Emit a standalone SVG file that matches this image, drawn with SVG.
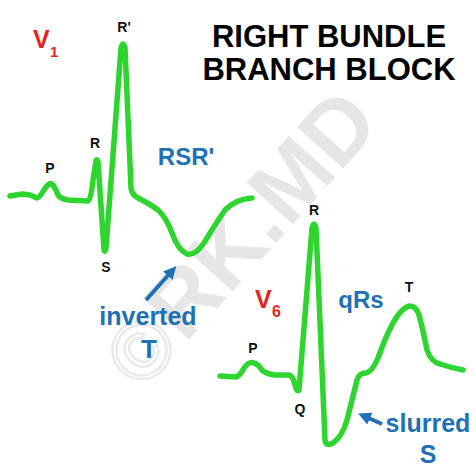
<svg xmlns="http://www.w3.org/2000/svg" width="474" height="474" viewBox="0 0 474 474">
<defs>
<style>
.trace{fill:none;stroke:#2fd52f;stroke-width:5.5;stroke-linejoin:round;stroke-linecap:round}
.lbl{font-family:"Liberation Sans",Arial,sans-serif;font-weight:bold;fill:#111;text-anchor:middle;font-size:14px}
.blue{font-family:"Liberation Sans",Arial,sans-serif;font-weight:bold;fill:#1f70b5;text-anchor:middle}
.red{font-family:"Liberation Sans",Arial,sans-serif;font-weight:bold;fill:#e3261c}
.title{font-family:"Liberation Sans",Arial,sans-serif;font-weight:bold;fill:#000;text-anchor:middle;font-size:31px}
.arrow{stroke:#1f70b5;stroke-width:4;fill:none;marker-end:url(#ah)}
</style>
<marker id="ah" viewBox="0 0 10 10" refX="5" refY="5" markerWidth="3.2" markerHeight="3.2" orient="auto" markerUnits="strokeWidth">
<path d="M0,0 L10,5 L0,10 z" fill="#1f70b5"/>
</marker>
</defs>
<rect width="474" height="474" fill="#fff"/>
<g id="watermark" transform="translate(185,344) rotate(-48)">
<text x="-64" y="0" font-family="Liberation Sans,Arial,sans-serif" font-size="82" fill="none" stroke="#eaeaea" stroke-width="2.5">©</text>
<text x="0" y="0" font-family="Liberation Sans,Arial,sans-serif" font-weight="bold" font-size="90" fill="#e6e6e6">RK.MD</text>
</g>
<g id="title">
<text class="title" x="329" y="47">RIGHT BUNDLE</text>
<text class="title" x="329" y="80">BRANCH BLOCK</text>
</g>
<g id="v1">
<path class="trace" d="M10,196 L22,194 L30,195 L37,198 Q40,197 44,190 Q49,182 52,184 Q55,187 58,195 Q61,199 68,200 L88,201 Q91,199 93,180 L96,161 Q97,158 98,162 L104,250 Q105,253 106,248 L121,48 Q123,40 125,48 L131,188 Q132,195 138,198 Q150,204 158,210 Q166,217 172,233 Q178,250 187,254 Q195,256 204,243 Q214,226 225,210 Q236,199 252,198"/>
<text class="red" x="33" y="48" font-size="25">V</text>
<text class="red" x="50" y="57" font-size="15">1</text>
<text class="lbl" x="50" y="173">P</text>
<text class="lbl" x="95" y="148">R</text>
<text class="lbl" x="106" y="272">S</text>
<text class="lbl" x="124" y="32">R'</text>
<text class="blue" x="186" y="165" font-size="24">RSR'</text>
</g>
<g id="v6">
<path class="trace" d="M220,376 L236,377 Q240,376 244,368 Q249,361 254,363 Q258,364 262,370 Q266,374 275,375 L289,375 Q293,376 295,385 Q297,393 299,390 L312,228 Q314,220 316,228 L325,440 Q326,447 333,443 Q342,437 347,420 Q352,400 357,380 Q359,373 366,373 Q372,372 378,358 Q385,338 393,323 Q402,307 410,306 Q416,306 419,315 Q423,330 427,350 Q431,362 440,364 Q452,368 463,370"/>
<text class="red" x="255" y="308" font-size="25">V</text>
<text class="red" x="272" y="317" font-size="16">6</text>
<text class="lbl" x="253" y="353">P</text>
<text class="lbl" x="314" y="215">R</text>
<text class="lbl" x="300" y="414">Q</text>
<text class="lbl" x="409" y="292">T</text>
<text class="blue" x="361" y="308" font-size="24">qRs</text>
</g>
<g id="labels">
<text class="blue" x="148" y="325" font-size="25">inverted</text>
<text class="blue" x="149" y="358" font-size="26">T</text>
<text class="blue" x="428" y="432" font-size="25">slurred</text>
<text class="blue" x="428" y="463" font-size="25">S</text>
</g>
<g id="connectors">
<line class="arrow" x1="146" y1="300" x2="172" y2="271"/>
<line class="arrow" x1="382" y1="424" x2="364" y2="416"/>
</g>
</svg>
